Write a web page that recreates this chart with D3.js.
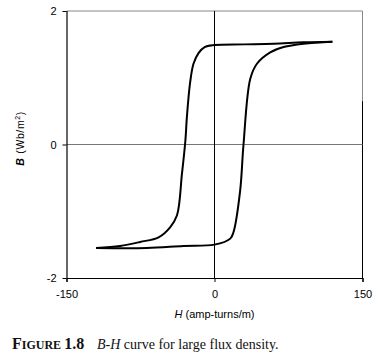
<!DOCTYPE html>
<html><head><meta charset="utf-8">
<script src="https://cdn.jsdelivr.net/npm/d3@7"></script>
<style>body{margin:0;background:#fff}svg{display:block}</style>
</head><body>
<svg id="c" width="386" height="360"></svg>
<script>
// Data
const descH = [119.5, 90, 60, 30, 0, -10, -16.2, -21.3, -24.7, -28, -29.5, -33, -38, -45, -56.7, -75.4, -95.7, -120];
const descB = [1.54, 1.53, 1.51, 1.50, 1.49, 1.46, 1.37, 1.21, 0.93, 0.41, 0.06, -0.44, -1.06, -1.24, -1.39, -1.46, -1.52, -1.55];
const ascH = [-120, -68.6, -31.5, 0, 16, 19.3, 26, 29.4, 36.2, 43, 56.5, 70, 90.3, 119.5];
const ascB = [-1.55, -1.55, -1.52, -1.50, -1.41, -1.31, -0.69, 0, 0.98, 1.21, 1.38, 1.46, 1.51, 1.54];
const xTicks = [-150, 0, 150];
const yTicks = [-2, 0, 2];

const svg = d3.select("#c");
const L = 66.5, R = 362.5, T = 11, B = 278;
const x = d3.scaleLinear().domain([-150, 150]).range([L, R]);
const y = d3.scaleLinear().domain([-2, 2]).range([B, T]);

// frame (top/right gray)
svg.append("line").attr("x1", L).attr("x2", R).attr("y1", T).attr("y2", T).attr("stroke", "#888").attr("stroke-width", 1);
svg.append("line").attr("x1", R).attr("x2", R).attr("y1", T).attr("y2", y(0.65)).attr("stroke", "#888").attr("stroke-width", 1);
svg.append("line").attr("x1", R).attr("x2", R).attr("y1", y(0.65)).attr("y2", B).attr("stroke", "#000").attr("stroke-width", 1);
// zero lines
svg.append("line").attr("x1", L).attr("x2", R).attr("y1", y(0)).attr("y2", y(0)).attr("stroke", "#777").attr("stroke-width", 1);
svg.append("line").attr("x1", x(0)).attr("x2", x(0)).attr("y1", T).attr("y2", B).attr("stroke", "#000").attr("stroke-width", 1);

// axes
const fmt = d => String(d);
const xAxis = d3.axisBottom(x).tickValues(xTicks).tickSize(4).tickPadding(8).tickFormat(fmt);
const gx = svg.append("g").attr("transform", `translate(0,${B})`).call(xAxis);
const yAxis = d3.axisLeft(y).tickValues(yTicks).tickSize(4).tickPadding(6).tickFormat(fmt);
const gy = svg.append("g").attr("transform", `translate(${L},0)`).call(yAxis);
[gx, gy].forEach(g => {
  g.select(".domain").attr("stroke", "#000").attr("stroke-width", 1.2);
  g.selectAll(".tick line").attr("stroke", "#000");
  g.selectAll("text").attr("font-family", "Liberation Sans, Arial, sans-serif").attr("font-size", 11).attr("fill", "#000");
});
gy.selectAll(".domain").attr("d", `M0.5,${T}V${B}`);

// curves
const lineX = d3.line().x(d => x(d[0])).y(d => y(d[1])).curve(d3.curveCatmullRom.alpha(0.5));
svg.append("path").datum(descH.map((h, i) => [h, descB[i]])).attr("d", lineX)
  .attr("fill", "none").attr("stroke", "#000").attr("stroke-width", 2);
svg.append("path").datum(ascH.map((h, i) => [h, ascB[i]])).attr("d", lineX)
  .attr("fill", "none").attr("stroke", "#000").attr("stroke-width", 2);

// axis titles
const yt = svg.append("text").attr("transform", `translate(24,${y(0) - 6}) rotate(-90)`)
  .attr("text-anchor", "middle").attr("font-family", "Liberation Sans, Arial, sans-serif").attr("font-size", 10.5)
  .attr("letter-spacing", 0.6);
yt.append("tspan").attr("font-weight", "bold").attr("font-style", "italic").text("B");
yt.append("tspan").attr("dx", 4).text("(Wb/m");
yt.append("tspan").attr("font-size", 7).attr("dy", -4).text("2");
yt.append("tspan").attr("dy", 4).text(")");

const xt = svg.append("text").attr("x", x(0)).attr("y", 318).attr("text-anchor", "middle")
  .attr("font-family", "Liberation Sans, Arial, sans-serif").attr("font-size", 11);
xt.append("tspan").attr("font-style", "italic").text("H");
xt.append("tspan").text(" (amp-turns/m)");

// caption
const cap = svg.append("text").attr("x", 12).attr("y", 349).attr("font-family", "Liberation Serif, Times New Roman, serif").attr("font-size", 14).attr("fill", "#111");
cap.append("tspan").attr("font-weight", "bold").attr("font-size", 16).text("F");
cap.append("tspan").attr("font-weight", "bold").attr("font-size", 12).text("IGURE ");
cap.append("tspan").attr("font-weight", "bold").attr("font-size", 16).text("1.8");
cap.append("tspan").attr("x", 97).attr("font-style", "italic").text("B-H");
cap.append("tspan").text(" curve for large flux density.");
</script>
</body></html>
